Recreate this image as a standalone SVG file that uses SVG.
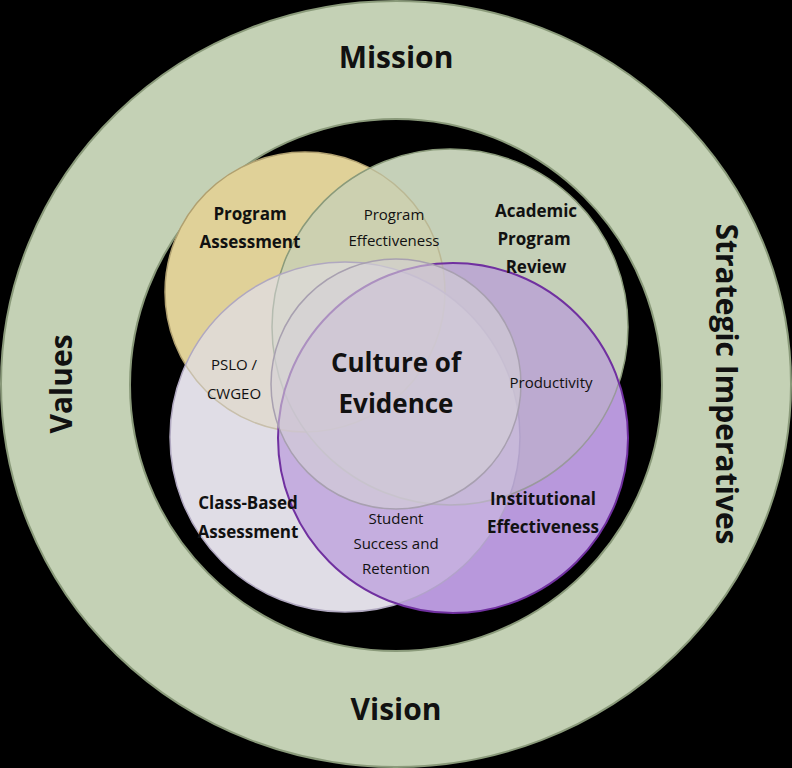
<svg xmlns="http://www.w3.org/2000/svg" width="792" height="768" viewBox="0 0 792 768">
<style>
.b{font-family:"Open Sans","Liberation Sans",sans-serif;font-weight:bold;fill:#111;text-anchor:middle}
.r{font-family:"Open Sans","Liberation Sans",sans-serif;fill:#111;text-anchor:middle;font-size:15px}
.h{font-size:30px}.m{font-size:17px}
.pa{fill:#e0d198}.ar{fill:#c5d0b8}.cb{fill:#e0dde6}.ie{fill:#b898dc}
</style>
<rect width="792" height="768" fill="#000"/>
<g id="ring">
<ellipse cx="396" cy="384" rx="395" ry="383" fill="#c4d1b5" stroke="#8a9a7a" stroke-width="2"/>
<circle cx="396" cy="385" r="266" fill="#000" stroke="#8a9a7a" stroke-width="2"/>
<text class="b h" x="396" y="68">Mission</text>
<text class="b h" x="396" y="720">Vision</text>
<text class="b h" transform="translate(72,384) rotate(-90)">Values</text>
<text class="b h" transform="translate(716,384) rotate(90)">Strategic Imperatives</text>
</g>
<g id="base">
<circle class="pa" cx="305" cy="292" r="140"/>
<circle class="ar" cx="450" cy="327" r="178"/>
<circle class="cb" cx="345" cy="437" r="175"/>
<circle class="ie" cx="453" cy="438" r="175"/>
</g>
<g id="program-assessment"><circle class="pa" cx="305" cy="292" r="140" fill-opacity="0.5" stroke="#b0a070" stroke-width="1.5"/></g>
<g id="academic-review"><circle class="ar" cx="450" cy="327" r="178" fill-opacity="0.5" stroke="#8a9a7a" stroke-width="1.5"/></g>
<g id="class-based"><circle class="cb" cx="345" cy="437" r="175" fill-opacity="0.5" stroke="#b0a8c0" stroke-width="1.5"/></g>
<g id="institutional"><circle class="ie" cx="453" cy="438" r="175" fill-opacity="0.35" stroke="#7030a0" stroke-width="2"/></g>
<g id="culture"><circle cx="396" cy="384" r="125" fill="#d4d0d6" fill-opacity="0.6" stroke="#a8a0b0" stroke-width="1.5"/>
<text class="b" font-size="26" x="396" y="372">Culture of</text>
<text class="b" font-size="26" x="396" y="413">Evidence</text></g>
<g id="labels">
<text class="b m" x="250" y="220">Program</text><text class="b m" x="250" y="248">Assessment</text>
<text class="b m" x="536" y="217">Academic</text><text class="b m" x="534" y="245">Program</text><text class="b m" x="536" y="273">Review</text>
<text class="b m" x="248" y="509">Class-Based</text><text class="b m" x="248" y="538">Assessment</text>
<text class="b m" x="543" y="505">Institutional</text><text class="b m" x="543" y="533">Effectiveness</text>
<text class="r" x="394" y="220">Program</text><text class="r" x="394" y="246">Effectiveness</text>
<text class="r" x="234" y="370">PSLO /</text><text class="r" x="234" y="399">CWGEO</text>
<text class="r" x="551" y="388">Productivity</text>
<text class="r" x="396" y="524">Student</text><text class="r" x="396" y="549">Success and</text><text class="r" x="396" y="574">Retention</text>
</g>
</svg>
